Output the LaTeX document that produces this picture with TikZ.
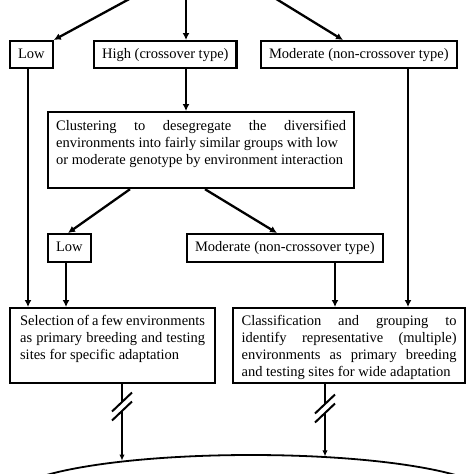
\documentclass[tikz,border=0pt]{standalone}
\usepackage{fontspec}
\setmainfont{Liberation Serif}
\usetikzlibrary{arrows.meta,shapes.geometric,calc}
\newcommand\jline[2]{\hbox{\strut\makebox[#1][s]{#2}}}
\newcommand\pline[1]{\hbox{\strut #1}}
\newcommand\brk[2]{%
  \fill[white] (#1-10,#2+4.5) -- (#1+10,#2-14.5) -- (#1+10,#2-5.5) -- (#1-10,#2+13.5) -- cycle;
  \draw[slash] (#1-10,#2+4.5) -- (#1+10,#2-14.5);
  \draw[slash] (#1-10,#2+13.5) -- (#1+10,#2-5.5);}
\begin{document}
\begin{tikzpicture}[x=1pt,y=-1pt,
  box/.style={draw, line width=2.2pt, anchor=north west, inner xsep=8pt, inner ysep=0pt,
    font=\fontsize{14.5}{17}\selectfont},
  arr/.style={line width=2.3pt, -{Latex[length=7pt,width=7pt]}},
  arrb/.style={line width=2pt, -{Latex[length=6pt,width=5.5pt]}},
  slash/.style={line width=2pt}]
\useasboundingbox (0,0) rectangle (474,474);
\clip (0,0) rectangle (474,474);

% row 1
\node[box] (low) at (9,40) {\parbox[t][27pt][c]{32pt}{\pline{Low}}};
\node[box] (high) at (93,40) {\parbox[t][27pt][c]{124pt}{\pline{High (crossover type)}}};
\node[box] (mod) at (260,40) {\parbox[t][27pt][c]{188pt}{\pline{Moderate (non-crossover type)}}};

% clustering
\node[box] (clust) at (47,111) {\parbox[t][76pt][t]{290pt}{\vspace*{6pt}%
  \jline{290pt}{Clustering to desegregate the diversified}%
  \pline{environments into fairly similar groups with low}%
  \pline{or moderate genotype by environment interaction}}};

% row 3
\node[box] (low2) at (47,233) {\parbox[t][28pt][c]{30pt}{\pline{Low}}};
\node[box] (mod2) at (186,233) {\parbox[t][28pt][c]{188pt}{\pline{Moderate (non-crossover type)}}};

% row 4
\node[box, inner xsep=10pt] (sel) at (9,307) {\parbox[t][75pt][t]{185pt}{\vspace*{5pt}%
  \jline{185pt}{Selection of a few environments}%
  \jline{185pt}{as primary breeding and testing}%
  \pline{sites for specific adaptation}}};
\node[box, inner xsep=8.5pt] (cls) at (232,307) {\parbox[t][75pt][t]{215pt}{\vspace*{5pt}%
  \jline{215pt}{Classification and grouping to}%
  \jline{215pt}{identify representative (multiple)}%
  \jline{215pt}{environments as primary breeding}%
  \pline{and testing sites for wide adaptation}}};

% ellipse
\node[draw, ellipse, line width=1.8pt, inner sep=0pt, minimum width=480pt, minimum height=84pt] (ell) at (251,497) {};

% coordinates
\coordinate (t1) at (133,-3);
\coordinate (t2) at (186,-3);
\coordinate (t3) at (273,-3);
\coordinate (a1) at ([xshift=19pt]low.south west);
\coordinate (a2) at ([xshift=148pt]mod.south west);
\coordinate (a3) at ([xshift=19pt]low2.south west);
\coordinate (a4) at ([xshift=149pt]mod2.south west);
\coordinate (e1) at ([xshift=113pt]sel.south west);
\coordinate (e2) at ([xshift=93pt]cls.south west);

% arrows
\draw[arr] (t1) -- (low.north east);
\draw[arr] (t2) -- (t2 |- high.north);
\draw[arr] (t3) -- ([xshift=83pt]mod.north west);
\draw[arr] (a1) -- (a1 |- sel.north);
\draw[arr] (t2 |- high.south) -- (t2 |- clust.north);
\draw[arr] (a2) -- (a2 |- cls.north);
\draw[arr] ([xshift=83pt]clust.south west) -- ([xshift=21pt]low2.north west);
\draw[arr] ([xshift=158pt]clust.south west) -- ([xshift=91pt]mod2.north west);
\draw[arr] (a3) -- (a3 |- sel.north);
\draw[arr] (a4) -- (a4 |- cls.north);
\draw[arrb] (e1) -- (e1 |- ell.164.7);
\draw[arrb] (e2) -- (e2 |- ell.28.4);

% breaks
\brk{122}{407}
\brk{325}{409}
\end{tikzpicture}
\end{document}
